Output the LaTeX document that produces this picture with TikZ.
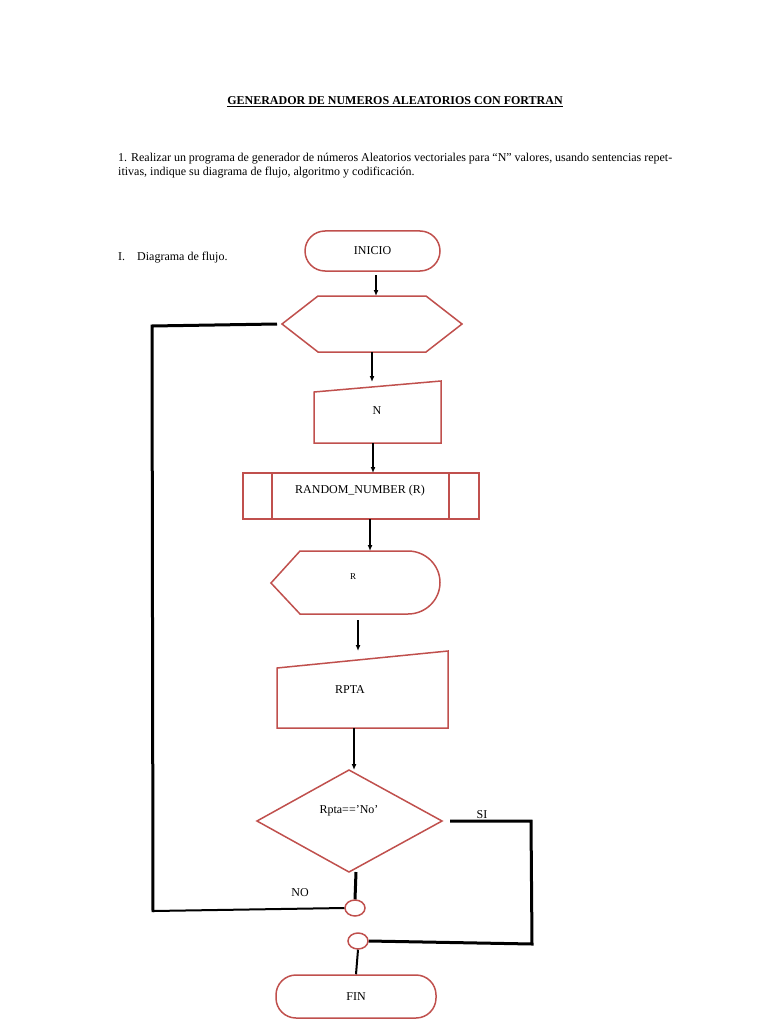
\documentclass[tikz,border=0pt]{standalone}
\usepackage{fontspec}
\setmainfont{Liberation Serif}
\usetikzlibrary{arrows.meta,shapes.geometric}
\definecolor{bord}{RGB}{192,80,77}
\begin{document}
\begin{tikzpicture}[x=1pt,y=-1pt,
  shp/.style={draw=bord,line width=1.5pt,fill=white},
  arr/.style={-{Latex[length=6pt,width=5pt]},line width=1.5pt},
  thk/.style={line width=3pt},
  lbl/.style={font=\fontsize{12}{14}\selectfont,inner sep=0pt}]
\useasboundingbox (0,0) rectangle (768,1024);
\node[font=\bfseries\fontsize{12}{14}\selectfont] at (395,102) {\underline{GENERADOR DE NUMEROS ALEATORIOS CON FORTRAN}};
\node[lbl,anchor=north west,text width=554pt,align=justify] at (118,153) {\fontsize{12}{19.5}\selectfont 1. Realizar un programa de generador de números Aleatorios vectoriales para “N” valores, usando sentencias repetitivas, indique su diagrama de flujo, algoritmo y codificación.};
\node[lbl,anchor=west] at (118,258) {I.\quad Diagrama de flujo.};
% shapes
\node[shp,rounded corners=20pt,minimum width=135pt,minimum height=40pt,lbl] (ini) at (372.5,251) {INICIO};
\draw[shp] (282,324)--(318,296)--(426,296)--(462,324)--(426,352)--(318,352)--cycle;
\coordinate (hexL) at (277,324); \coordinate (hexT) at (376,296); \coordinate (hexB) at (372,352);
\draw[shp] (314,392)--(441,381)--(441,443)--(314,443)--cycle;
\node[lbl] (n) at (377,411) {N};
\coordinate (nT) at (372,382); \coordinate (nB) at (373,443);
\draw[shp] (243,473) rectangle (479,519);
\draw[draw=bord,line width=1.5pt] (272,473)--(272,519) (449,473)--(449,519);
\node[lbl] (rn) at (360,491) {RANDOM\_NUMBER (R)};
\coordinate (rnT) at (373,473); \coordinate (rnB) at (370,519);
\draw[shp] (271,583)--(300,551)--(408,551) arc[start angle=-90,end angle=90,x radius=32pt,y radius=-31.5pt]--(300,614)--cycle;
\node[lbl,font=\fontsize{9}{10}\selectfont] (r) at (353,577) {R};
\coordinate (rT) at (370,551); \coordinate (rB) at (358,620);
\draw[shp] (277,668)--(448,651)--(448,728)--(277,728)--cycle;
\node[lbl] (rp) at (350,690) {RPTA};
\coordinate (rpT) at (358,651); \coordinate (rpB) at (354,728);
\draw[shp] (257,821)--(349,770)--(442,821)--(349,872)--cycle;
\node[lbl] (d) at (349,811) {Rpta=='No'};
\coordinate (dB) at (356,872); \coordinate (dR) at (450,821); \coordinate (dT) at (354,770);
\node[lbl] at (482,815) {SI};
\node[lbl] at (300,893) {NO};
\node[draw=bord,line width=1.5pt,ellipse,minimum width=20pt,minimum height=16pt,inner sep=0pt] (c1) at (355,908) {};
\node[draw=bord,line width=1.5pt,ellipse,minimum width=20pt,minimum height=16pt,inner sep=0pt] (c2) at (358,941) {};
\node[shp,rounded corners=20pt,minimum width=160pt,minimum height=43pt,lbl] (fin) at (356,996.5) {FIN};
% connectors
\draw[arr] (376,275)--(hexT);
\draw[arr] (hexB)--(nT);
\draw[arr,line width=2.5pt] (nB)--(rnT);
\draw[arr] (rnB)--(rT);
\draw[arr] (rB)--(rpT);
\draw[arr] (rpB)--(dT);
\draw[thk] (hexL)--(152,326)--(153,912);
\draw[line width=2pt] (153,911)--(c1.west);
\draw[thk] (dB)--(c1.north);
\draw[thk] (dR)--(531,821)--(532,944)--(c2.east);
\draw[line width=2pt] (c2.south)--(fin.north);
\end{tikzpicture}
\end{document}
